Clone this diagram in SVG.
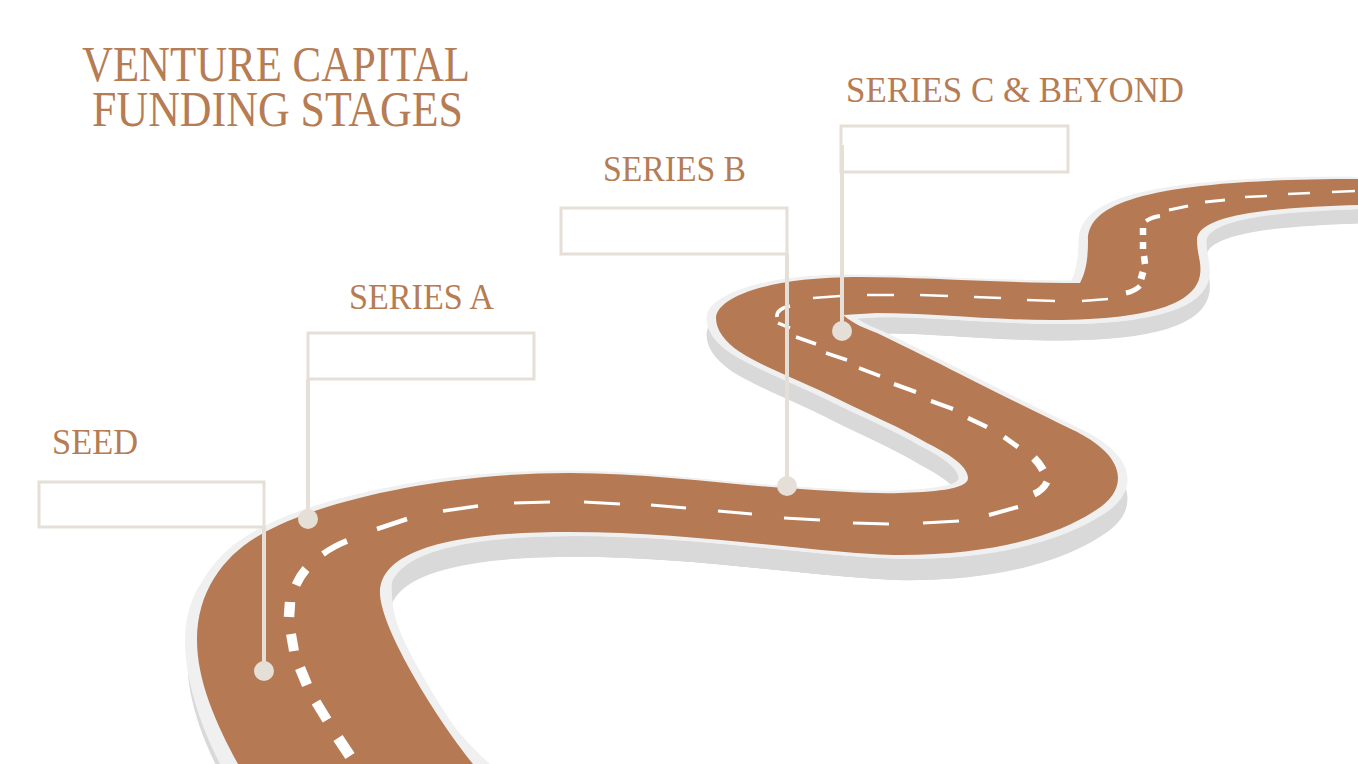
<svg xmlns="http://www.w3.org/2000/svg" xmlns:xlink="http://www.w3.org/1999/xlink" width="1358" height="764" viewBox="0 0 1358 764">
<style>
.t{font-family:"Liberation Serif","Times New Roman",serif;fill:#b67c54;}
.title{font-size:50px;}
.lab{font-size:36px;}
.box{fill:none;stroke:#e5dfd7;stroke-width:3;}
.pole{stroke:#e5dfd7;stroke-width:4;fill:none;}
.dot{fill:#e5dfd7;}
.d{stroke:#fff;fill:none;}
</style>
<defs>
<path id="road" d="M238,764 C215,722 197,680 197,640 C197,590 225,555 260,535 C310,505 430,473 570,473 C650,473 720,484 787,488 C830,491 870,494 900,493 C930,492 968,490 968,478 C968,465 945,452 927,443 C900,427 870,415 840,400 C800,380 765,368 740,352 C725,342 716,330 716,318 C716,300 760,277 860,277 C920,277 1000,283 1080,283 C1087,270 1088,255 1088,240 C1088,205 1140,179 1358,179 L1358,205 C1290,207 1197,212 1197,240 C1197,255 1202,262 1200,275 C1196,300 1160,320 1052,320 C990,320 930,313 877,313 L843,315 C855,325 865,328 877,333 C950,368 1000,395 1073,430 C1090,438 1118,455 1118,478 C1118,492 1108,503 1093,512 C1060,533 1000,555 900,555 C830,555 700,532 570,532 C470,532 380,545 380,593 C380,625 430,710 473,764 Z"/>
<g id="rim" stroke-width="5" stroke-linejoin="round">
<use xlink:href="#road" href="#road" x="-7" y="0"/>
<use xlink:href="#road" href="#road" x="-3.5" y="0.5"/>
<use xlink:href="#road" href="#road" x="0" y="1"/>
<use xlink:href="#road" href="#road" x="3.5" y="1.5"/>
<use xlink:href="#road" href="#road" x="7" y="1.5"/>
</g>
</defs>
<rect width="1358" height="764" fill="#fff"/>
<g id="road-surface">
<use xlink:href="#rim" href="#rim" transform="matrix(1,0,0,1.02,0,10)" fill="#d9d9d9" stroke="#d9d9d9"/>
<path d="M196,680 C200,710 208,740 216,764 L232,764 C215,730 205,705 196,680 Z" fill="#d9d9d9"/>
<use xlink:href="#rim" href="#rim" fill="#f0f0f0" stroke="#f0f0f0"/>
<path d="M262,532 C215,555 185,590 185,640 C185,680 200,725 220,764 L245,764 L260,600 Z" fill="#f0f0f0"/>
<path d="M376,593 C376,570 385,555 405,548 L395,570 C390,580 391,600 396,620 C410,665 445,725 490,764 L465,764 L390,640 Z" fill="#f0f0f0"/>
<use xlink:href="#road" href="#road" fill="#b57a53"/>
</g>
<g id="center-line">
<path class="d" stroke-width="11" d="M338,738L350,756"/>
<path class="d" stroke-width="10" d="M316,702L327,720"/>
<path class="d" stroke-width="10.5" d="M300,668L307,685"/>
<path class="d" stroke-width="10" d="M291,634L294,651"/>
<path class="d" stroke-width="10.5" d="M290,602L289,617"/>
<path class="d" stroke-width="9" d="M306,569Q300,576 296,585"/>
<path class="d" stroke-width="6" d="M323,554Q334,546 347,541"/>
<path class="d" stroke-width="4.5" d="M377,529L407,519"/>
<path class="d" stroke-width="3.5" d="M443,511L478,506"/>
<path class="d" stroke-width="3" d="M514,503L550,502"/>
<path class="d" stroke-width="3" d="M584,502L620,504"/>
<path class="d" stroke-width="3" d="M651,505L686,508"/>
<path class="d" stroke-width="3" d="M718,511L752,514"/>
<path class="d" stroke-width="3" d="M784,518L820,520"/>
<path class="d" stroke-width="3" d="M853,523L889,524"/>
<path class="d" stroke-width="3" d="M923,523L959,521"/>
<path class="d" stroke-width="4" d="M989,515L1018,507"/>
<path class="d" stroke-width="7" d="M1034,494Q1043,490 1047,482"/>
<path class="d" stroke-width="8" d="M1034,458Q1039,463 1043,470"/>
<path class="d" stroke-width="5" d="M1004,437L1018,447"/>
<path class="d" stroke-width="4.5" d="M968,418L987,427"/>
<path class="d" stroke-width="4" d="M931,401L953,409"/>
<path class="d" stroke-width="4" d="M894,384L916,392"/>
<path class="d" stroke-width="3.5" d="M859,368L880,376"/>
<path class="d" stroke-width="3.5" d="M826,353L847,360"/>
<path class="d" stroke-width="3.5" d="M796,337L816,344"/>
<path class="d" stroke-width="3.5" d="M778,323L790,328"/>
<path class="d" stroke-width="3.5" d="M790,306Q776,309 777,317"/>
<path class="d" stroke-width="2.5" d="M813,298L840,296"/>
<path class="d" stroke-width="2.5" d="M867,295L894,295"/>
<path class="d" stroke-width="2.5" d="M920,295L948,296"/>
<path class="d" stroke-width="2.5" d="M974,297L1001,298"/>
<path class="d" stroke-width="2.5" d="M1027,300L1055,301"/>
<path class="d" stroke-width="2.5" d="M1082,301L1108,299"/>
<path class="d" stroke-width="5" d="M1126,293Q1135,291 1140,286"/>
<path class="d" stroke-width="7" d="M1143,272L1141,279"/>
<path class="d" stroke-width="6.5" d="M1144,256L1145,264"/>
<path class="d" stroke-width="6.5" d="M1143,242L1143,249"/>
<path class="d" stroke-width="6.5" d="M1143,228L1143,235"/>
<path class="d" stroke-width="4" d="M1146,221Q1152,217 1160,216"/>
<path class="d" stroke-width="3" d="M1169,210L1188,206"/>
<path class="d" stroke-width="3" d="M1205,202L1225,200"/>
<path class="d" stroke-width="2.5" d="M1245,197L1267,196"/>
<path class="d" stroke-width="2.5" d="M1288,194L1310,193"/>
<path class="d" stroke-width="2.5" d="M1332,192L1355,191"/>
</g>
<g id="title">
<text class="t title" x="82" y="81" textLength="388" lengthAdjust="spacingAndGlyphs">VENTURE CAPITAL</text>
<text class="t title" x="92" y="126" textLength="371" lengthAdjust="spacingAndGlyphs">FUNDING STAGES</text>
</g>
<g id="connectors">
<path class="pole" d="M264,527V670"/>
<path class="pole" d="M308,379V519"/>
<path class="pole" d="M787,254V486"/>
<path class="pole" d="M842,145V331"/>
</g>
<g id="seed">
<rect class="box" x="39" y="482" width="225" height="45"/>
<circle class="dot" cx="264" cy="671" r="10"/>
<text class="t lab" x="52" y="454" textLength="86" lengthAdjust="spacingAndGlyphs">SEED</text>
</g>
<g id="series-a">
<rect class="box" x="308" y="333" width="226" height="46"/>
<circle class="dot" cx="308" cy="519" r="10"/>
<text class="t lab" x="349" y="309" textLength="145" lengthAdjust="spacingAndGlyphs">SERIES A</text>
</g>
<g id="series-b">
<rect class="box" x="561" y="208" width="226" height="46"/>
<circle class="dot" cx="787" cy="486" r="10"/>
<text class="t lab" x="603" y="181" textLength="143" lengthAdjust="spacingAndGlyphs">SERIES B</text>
</g>
<g id="series-c">
<rect class="box" x="841" y="126" width="227" height="46"/>
<circle class="dot" cx="842" cy="331" r="10"/>
<text class="t lab" x="846" y="102" textLength="338" lengthAdjust="spacingAndGlyphs">SERIES C &amp; BEYOND</text>
</g>
</svg>
